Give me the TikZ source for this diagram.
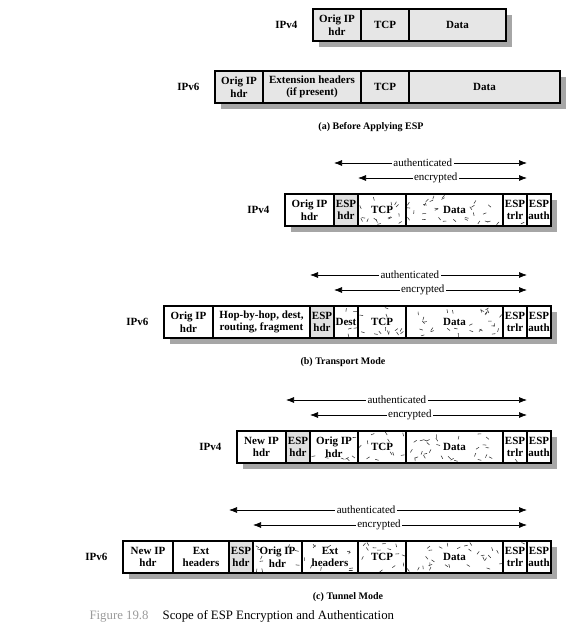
\documentclass[tikz,border=0pt]{standalone}
\usepackage{fontspec}
\setmainfont{Liberation Serif}
\usetikzlibrary{positioning,calc,arrows.meta}
\pgfdeclarelayer{background}
\pgfsetlayers{background,main}

\definecolor{shadowgray}{HTML}{A6A6A6}
\definecolor{palegray}{HTML}{E6E6E6}
\definecolor{espgray}{HTML}{E0E0E0}
\definecolor{figgray}{HTML}{9A9A9A}

\newcommand{\cellfont}{\fontsize{11}{12.5}\selectfont\bfseries}
\newcommand{\spanfont}{\fontsize{11}{12}\selectfont}
\newcommand{\captfont}{\fontsize{10}{12}\selectfont\bfseries}
\newcommand{\figfont}{\fontsize{12.8}{14}\selectfont}

% random flecks inside an encrypted cell: width, half text width, half text height
\newcommand{\fleckfill}[3]{%
  \pgfmathtruncatemacro{\nfl}{#1/2.8}
  \foreach \k in {1,...,\nfl}{
    \pgfmathsetmacro{\fx}{2+rnd*(#1-4)}
    \pgfmathsetmacro{\fy}{2+rnd*28}
    \pgfmathsetmacro{\fa}{rnd*180}
    \pgfmathtruncatemacro{\fin}{(abs(\fx-#1/2)<(#2+1))*(abs(\fy-16)<(#3+1))}
    \ifnum\fin=0
      \draw[fleck] ($(path picture bounding box.north west)+(\fx,\fy)+(\fa:-1.8)$) -- ++(\fa:3.6);
    \fi
  }}

% gray drop shadow behind a packet
\newcommand{\dropshadow}[2]{%
  \begin{pgfonlayer}{background}
    \fill[shadowbox] ([shift={(6,6)}]#1.north west) rectangle ([shift={(6,6)}]#2.south east);
  \end{pgfonlayer}}

\tikzset{
  cell/.style={draw, line width=1.2pt, minimum height=32pt, inner sep=0pt, outer sep=0pt,
    align=center, font=\cellfont, fill=white},
  pale/.style={cell, fill=palegray},
  hdrcell/.style={cell, fill=espgray},
  secret/.style n args={3}{cell, minimum width=#1, path picture={\fleckfill{#1}{#2}{#3}}},
  fleck/.style={line width=0.55pt, black!80},
  frame/.style={line width=1.8pt},
  shadowbox/.style={fill=shadowgray},
  span/.style={{Latex[length=8pt,width=6pt]}-{Latex[length=8pt,width=6pt]}, line width=0.7pt},
  spantext/.style={pos=0.46, fill=white, inner sep=1.5pt, font=\spanfont},
  rowlabel/.style={anchor=east, font=\cellfont},
  caption/.style={font=\captfont}
}

\begin{document}
\begin{tikzpicture}[x=1pt, y=-1pt]
  \useasboundingbox (0,0) rectangle (587,637);
  \pgfmathsetseed{198}

  % (a) before applying ESP
  \node[pale, minimum width=48, anchor=north west] (a4ip) at (313,9) {Orig IP\\hdr};
  \node[pale, minimum width=48, right=0pt of a4ip] (a4tcp) {TCP};
  \node[pale, minimum width=97, right=0pt of a4tcp] (a4data) {Data};
  \draw[frame] (a4ip.north west) rectangle (a4data.south east);
  \dropshadow{a4ip}{a4data}
  \node[rowlabel] (a4lbl) at ([xshift=-12pt]a4ip.west) {IPv4};

  \node[pale, minimum width=48, anchor=north west] (a6ip) at (215,71) {Orig IP\\hdr};
  \node[pale, minimum width=98, right=0pt of a6ip] (a6ext) {Extension headers\\(if present)};
  \node[pale, minimum width=48, right=0pt of a6ext] (a6tcp) {TCP};
  \node[pale, minimum width=151, right=0pt of a6tcp] (a6data) {Data};
  \draw[frame] (a6ip.north west) rectangle (a6data.south east);
  \dropshadow{a6ip}{a6data}
  \node[rowlabel] (a6lbl) at ([xshift=-12pt]a6ip.west) {IPv6};

  \node[caption] (acap) at (371,127) {(a) Before Applying ESP};

  % (b) transport mode
  \node[cell, minimum width=49, anchor=north west] (b4ip) at (285,194) {Orig IP\\hdr};
  \node[hdrcell, minimum width=24, right=0pt of b4ip] (b4esp) {ESP\\hdr};
  \node[secret={48}{11}{5}, right=0pt of b4esp] (b4tcp) {TCP};
  \node[secret={97}{12}{5}, right=0pt of b4tcp] (b4data) {Data};
  \node[secret={24}{10}{11}, right=0pt of b4data] (b4trlr) {ESP\\trlr};
  \node[cell, minimum width=24, right=0pt of b4trlr] (b4auth) {ESP\\auth};
  \draw[frame] (b4ip.north west) rectangle (b4auth.south east);
  \dropshadow{b4ip}{b4auth}
  \node[rowlabel] (b4lbl) at ([xshift=-12pt]b4ip.west) {IPv4};
  \draw[span] ([yshift=31pt]b4esp.north west) -- node[spantext] {authenticated} ([yshift=31pt]b4auth.north west);
  \draw[span] ([yshift=16pt]b4tcp.north west) -- node[spantext] {encrypted} ([yshift=16pt]b4auth.north west);

  \node[cell, minimum width=49, anchor=north west] (b6ip) at (164,306) {Orig IP\\hdr};
  \node[cell, minimum width=97, right=0pt of b6ip] (b6hop) {Hop-by-hop, dest,\\routing, fragment};
  \node[hdrcell, minimum width=24, right=0pt of b6hop] (b6esp) {ESP\\hdr};
  \node[secret={24}{10}{5}, right=0pt of b6esp] (b6dest) {Dest};
  \node[secret={48}{11}{5}, right=0pt of b6dest] (b6tcp) {TCP};
  \node[secret={97}{12}{5}, right=0pt of b6tcp] (b6data) {Data};
  \node[secret={24}{10}{11}, right=0pt of b6data] (b6trlr) {ESP\\trlr};
  \node[cell, minimum width=24, right=0pt of b6trlr] (b6auth) {ESP\\auth};
  \draw[frame] (b6ip.north west) rectangle (b6auth.south east);
  \dropshadow{b6ip}{b6auth}
  \node[rowlabel] (b6lbl) at ([xshift=-12pt]b6ip.west) {IPv6};
  \draw[span] ([yshift=31pt]b6esp.north west) -- node[spantext] {authenticated} ([yshift=31pt]b6auth.north west);
  \draw[span] ([yshift=16pt]b6dest.north west) -- node[spantext] {encrypted} ([yshift=16pt]b6auth.north west);

  \node[caption] (bcap) at (343,362) {(b) Transport Mode};

  % (c) tunnel mode
  \node[cell, minimum width=49, anchor=north west] (c4new) at (237,431) {New IP\\hdr};
  \node[hdrcell, minimum width=24, right=0pt of c4new] (c4esp) {ESP\\hdr};
  \node[secret={48}{15}{9}, right=0pt of c4esp] (c4orig) {Orig IP\\hdr};
  \node[secret={48}{11}{5}, right=0pt of c4orig] (c4tcp) {TCP};
  \node[secret={97}{12}{5}, right=0pt of c4tcp] (c4data) {Data};
  \node[secret={24}{10}{11}, right=0pt of c4data] (c4trlr) {ESP\\trlr};
  \node[cell, minimum width=24, right=0pt of c4trlr] (c4auth) {ESP\\auth};
  \draw[frame] (c4new.north west) rectangle (c4auth.south east);
  \dropshadow{c4new}{c4auth}
  \node[rowlabel] (c4lbl) at ([xshift=-12pt]c4new.west) {IPv4};
  \draw[span] ([yshift=31pt]c4esp.north west) -- node[spantext] {authenticated} ([yshift=31pt]c4auth.north west);
  \draw[span] ([yshift=16pt]c4orig.north west) -- node[spantext] {encrypted} ([yshift=16pt]c4auth.north west);

  \node[cell, minimum width=50, anchor=north west] (c6new) at (123,541) {New IP\\hdr};
  \node[cell, minimum width=56, right=0pt of c6new] (c6ext) {Ext\\headers};
  \node[hdrcell, minimum width=24, right=0pt of c6ext] (c6esp) {ESP\\hdr};
  \node[secret={49}{15}{9}, right=0pt of c6esp] (c6orig) {Orig IP\\hdr};
  \node[secret={56}{15}{9}, right=0pt of c6orig] (c6ext2) {Ext\\headers};
  \node[secret={48}{11}{5}, right=0pt of c6ext2] (c6tcp) {TCP};
  \node[secret={97}{12}{5}, right=0pt of c6tcp] (c6data) {Data};
  \node[secret={24}{10}{11}, right=0pt of c6data] (c6trlr) {ESP\\trlr};
  \node[cell, minimum width=24, right=0pt of c6trlr] (c6auth) {ESP\\auth};
  \draw[frame] (c6new.north west) rectangle (c6auth.south east);
  \dropshadow{c6new}{c6auth}
  \node[rowlabel] (c6lbl) at ([xshift=-12pt]c6new.west) {IPv6};
  \draw[span] ([yshift=31pt]c6esp.north west) -- node[spantext] {authenticated} ([yshift=31pt]c6auth.north west);
  \draw[span] ([yshift=16pt]c6orig.north west) -- node[spantext] {encrypted} ([yshift=16pt]c6auth.north west);

  \node[caption] (ccap) at (348,597) {(c) Tunnel Mode};

  \node[anchor=west, font=\figfont] (figcap) at (86,616)
    {\textcolor{figgray}{Figure 19.8}\hspace{1.1em}Scope of ESP Encryption and Authentication};
\end{tikzpicture}
\end{document}
